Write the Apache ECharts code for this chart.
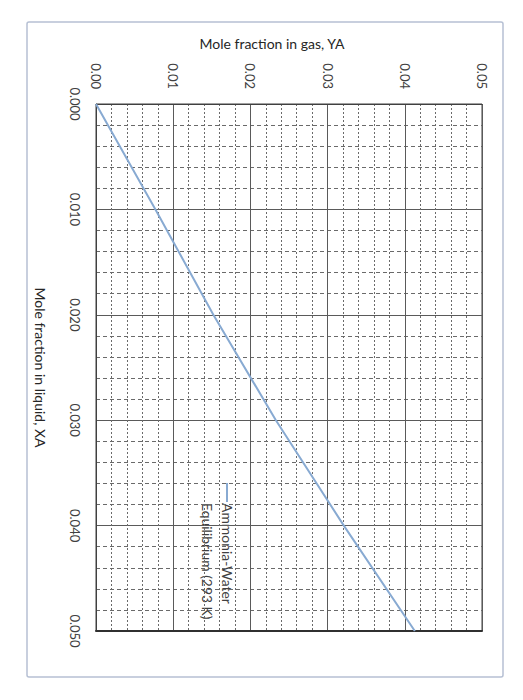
<!DOCTYPE html>
<html>
<head>
<meta charset="utf-8">
<script src="https://cdn.jsdelivr.net/npm/echarts@6/dist/echarts.min.js"></script>
<style>
html,body{margin:0;padding:0;background:#fff;}
#chart{width:523px;height:700px;}
</style>
</head>
<body>
<div id="chart"></div>
<script>
// Data
const xaLiquid = [0, 0.01, 0.02, 0.03, 0.04, 0.05];          // Mole fraction in liquid, XA
const yaGas    = [0, 0.0077, 0.0152, 0.0233, 0.0321, 0.0413];  // Mole fraction in gas, YA
const seriesName = 'Ammonia-Water Equilibrium (293 K)';
const legendLines = ['Ammonia-Water', 'Equilibrium (293 K)'];
const yaTitle = 'Mole fraction in gas, YA';
const xaTitle = 'Mole fraction in liquid, XA';

const FONT = 'Lato, "Liberation Sans", sans-serif';
const TXT = '#404040';
const LS = 1.07; // legend stretch along reading direction

const chart = echarts.init(document.getElementById('chart'), null, {renderer: 'svg'});
const points = xaLiquid.map((x, i) => [yaGas[i], x]);

chart.setOption({
  backgroundColor: '#fff',
  animation: false,
  grid: {left: 96, top: 104, right: 41, bottom: 69, show: true, borderColor: '#404040', borderWidth: 1},
  xAxis: [{
    type: 'value', position: 'top', min: 0, max: 0.05, interval: 0.01,
    name: yaTitle, nameLocation: 'middle', nameGap: 54,
    nameTextStyle: {fontFamily: FONT, fontSize: 14, color: '#262626', padding: [0, 34, 0, 0]},
    axisLine: {show: true, lineStyle: {color: '#404040', width: 1}},
    axisTick: {show: false},
    axisLabel: {rotate: -90, margin: 15, fontFamily: FONT, fontSize: 13, color: TXT,
      formatter: v => v.toFixed(2)},
    splitLine: {show: true, lineStyle: {color: '#5a5a5a', width: 1}},
    minorTick: {show: false, splitNumber: 5},
    minorSplitLine: {show: true, lineStyle: {color: '#6a6a6a', width: 1, type: [2, 2]}}
  }, {
    type: 'value', position: 'bottom', min: 0, max: 0.05, interval: 0.01,
    axisLine: {show: true, lineStyle: {color: '#303030', width: 2}},
    axisTick: {show: false}, axisLabel: {show: false}, splitLine: {show: false}
  }],
  yAxis: {
    type: 'value', inverse: true, min: 0, max: 0.05, interval: 0.01,
    name: xaTitle, nameLocation: 'middle', nameGap: 49, nameRotate: -90,
    nameTextStyle: {fontFamily: FONT, fontSize: 14, color: '#262626'},
    axisLine: {show: true, lineStyle: {color: '#404040', width: 1}},
    axisTick: {show: false},
    axisLabel: {rotate: -90, margin: 15, fontFamily: FONT, fontSize: 13, color: TXT,
      formatter: v => v.toFixed(3)},
    splitLine: {show: true, lineStyle: {color: '#5a5a5a', width: 1}},
    minorTick: {show: false, splitNumber: 5},
    minorSplitLine: {show: true, lineStyle: {color: '#6a6a6a', width: 1, type: [4, 3]}}
  },
  series: [{
    name: seriesName, type: 'line', data: points, showSymbol: false, symbol: 'none',
    lineStyle: {color: '#88aad2', width: 2}, z: 5
  }],
  graphic: [
    {type: 'rect', shape: {x: 27, y: 22, width: 476, height: 655, r: 2},
     style: {fill: 'none', stroke: '#b6c0d4', lineWidth: 1.5}, z: 0, silent: true},
    {type: 'group', x: 227, y: 483, rotation: -Math.PI / 2, scaleX: LS, scaleY: 1, z: 10, children: [
      {type: 'line', shape: {x1: 0, y1: 0, x2: 19 / LS, y2: 0}, style: {stroke: '#88aad2', lineWidth: 2}},
      {type: 'text', x: 20 / LS, y: 0, style: {text: legendLines[0], fontFamily: FONT, fontSize: 13, fill: TXT, textVerticalAlign: 'middle', verticalAlign: 'middle'}},
      {type: 'text', x: 20 / LS, y: 20, style: {text: legendLines[1], fontFamily: FONT, fontSize: 13, fill: TXT, textVerticalAlign: 'middle', verticalAlign: 'middle'}}
    ]}
  ]
});
</script>
</body>
</html>
